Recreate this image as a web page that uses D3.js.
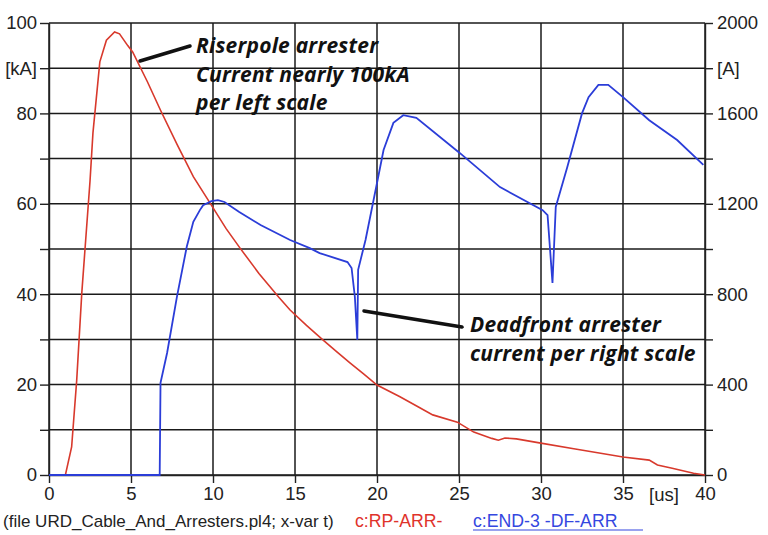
<!DOCTYPE html>
<html>
<head>
<meta charset="utf-8">
<script src="https://cdn.jsdelivr.net/npm/d3@7"></script>
<style>
  body { margin: 0; background: #fff; }
  svg { display: block; font-family: "Liberation Sans", Arial, sans-serif; }
  .axis text { font-size: 18.5px; fill: #222; }
  .axis line, .axis path { stroke: #222; stroke-width: 1.4; }
  .grid line { stroke: #1a1a1a; stroke-width: 1.5; }
  .note { font-family: "Open Sans", Lato, sans-serif; font-weight: 700; font-style: italic; font-size: 21px; letter-spacing: 0.2px; fill: #111; }
</style>
</head>
<body>
<div id="chart"></div>
<script>
/* ATP plot: arrester currents */

// red curve, riserpole arrester (left scale, kA)
const rpTime = [0, 1.0, 1.38, 1.69, 2.0, 2.5, 2.68, 3.1, 3.5, 4.0, 4.3, 4.8, 5.1, 6.0, 6.8, 7.8, 8.8, 9.9,
  10.8, 11.65, 12.8, 14.0, 14.7, 15.7, 16.7, 17.5, 18.35, 19.2, 20.0, 21.4, 22.5, 23.4, 24.9, 25.9,
  27.0, 27.4, 27.8, 28.5, 29.9, 32.0, 35.0, 36.6, 37.1, 38.0, 39.3, 40];
const rpCurrent = [0, 0, 6.2, 21, 40.3, 65, 75.7, 91.4, 96.2, 98, 97.6, 95, 93.6, 87, 80.7, 73.2, 66, 59.7,
  54.5, 50.2, 44.6, 39.4, 36.5, 33.1, 29.9, 27.4, 24.8, 22.3, 19.9, 17.3, 15.1, 13.3, 11.7, 9.5,
  8.1, 7.7, 8.2, 8.0, 7.1, 5.8, 4.0, 3.3, 2.2, 1.5, 0.4, 0];

// blue curve, deadfront arrester (right scale, A)
const dfTime = [0, 6.75, 6.8, 7.2, 7.8, 8.4, 8.8, 9.2, 9.4, 9.9, 10.3, 10.7, 11.6, 12.9, 14.7, 15.9, 16.5,
  18.2, 18.45, 18.65, 18.8, 18.85, 19.3, 20.0, 20.4, 21.0, 21.6, 22.4, 25.06, 27.5, 30.1, 30.4, 30.55,
  30.7, 30.9, 31.6, 32.5, 32.9, 33.5, 34.1, 35.0, 36.6, 38.3, 39.9];
const dfCurrent = [0, 0, 408, 540, 788, 1010, 1120, 1172, 1194, 1212, 1216, 1208, 1164, 1106, 1040, 1004, 982,
  942, 916, 788, 598, 908, 1040, 1292, 1438, 1558, 1592, 1580, 1424, 1274, 1172, 1150, 1000,
  850, 1186, 1362, 1600, 1672, 1726, 1726, 1672, 1570, 1482, 1372];

const xTicks = [0, 5, 10, 15, 20, 25, 30, 35, 40];
const leftTicks = [0, 10, 20, 30, 40, 50, 60, 70, 80, 90, 100];
const leftLabels = ["0", "", "20", "", "40", "", "60", "", "80", "[kA]", "100"];
const rightTicks = [0, 200, 400, 600, 800, 1000, 1200, 1400, 1600, 1800, 2000];
const rightLabels = ["0", "", "400", "", "800", "", "1200", "", "1600", "[A]", "2000"];

const height = 535,
  width = 768,
  margin = ({ top: 23, right: 63, bottom: 60, left: 49 });

const svg = d3.select("#chart")
  .append("svg")
  .attr("width", width)
  .attr("height", height)
  .attr("viewBox", [0, 0, width, height]);

let x = d3.scaleLinear()
  .domain([0, 40])
  .range([margin.left, width - margin.right]);

let yL = d3.scaleLinear()
  .domain([0, 100])
  .range([height - margin.bottom, margin.top]);

let yR = d3.scaleLinear()
  .domain([0, 2000])
  .range([height - margin.bottom, margin.top]);

// grid
const grid = svg.append("g").attr("class", "grid");
grid.selectAll(".h")
  .data(leftTicks)
  .join("line")
  .attr("x1", margin.left).attr("x2", width - margin.right)
  .attr("y1", d => yL(d)).attr("y2", d => yL(d));
grid.selectAll(".v")
  .data(xTicks)
  .join("line")
  .attr("class", "v")
  .attr("y1", margin.top).attr("y2", height - margin.bottom)
  .attr("x1", d => x(d)).attr("x2", d => x(d));

// axes
svg.append("g")
  .attr("class", "axis")
  .attr("transform", `translate(0,${height - margin.bottom})`)
  .call(d3.axisBottom(x).tickValues(xTicks).tickSize(8).tickPadding(4).tickSizeOuter(0));

svg.append("g")
  .attr("class", "axis")
  .attr("transform", `translate(${margin.left},0)`)
  .call(d3.axisLeft(yL).tickValues(leftTicks).tickSize(9).tickPadding(3).tickSizeOuter(0)
    .tickFormat((d, i) => leftLabels[i]));

svg.append("g")
  .attr("class", "axis")
  .attr("transform", `translate(${width - margin.right},0)`)
  .call(d3.axisRight(yR).tickValues(rightTicks).tickSize(8).tickPadding(4).tickSizeOuter(0)
    .tickFormat((d, i) => rightLabels[i]));

svg.append("text")
  .attr("x", x(37.5))
  .attr("y", height - margin.bottom + 26)
  .attr("text-anchor", "middle")
  .style("font-size", "18.5px")
  .attr("fill", "#222")
  .text("[us]");

// curves
const rpData = rpTime.map((t, i) => ({ t: t, v: rpCurrent[i] }));
const dfData = dfTime.map((t, i) => ({ t: t, v: dfCurrent[i] }));

svg.append("path")
  .datum(rpData)
  .attr("d", d3.line().x(d => x(d.t)).y(d => yL(d.v)))
  .attr("fill", "none")
  .attr("stroke", "#d8392c")
  .attr("stroke-width", 1.6);

svg.append("path")
  .datum(dfData)
  .attr("d", d3.line().x(d => x(d.t)).y(d => yR(d.v)))
  .attr("fill", "none")
  .attr("stroke", "#2b3dd8")
  .attr("stroke-width", 1.8);

// annotations
svg.append("line")
  .attr("x1", 140).attr("y1", 61).attr("x2", 190).attr("y2", 46)
  .attr("stroke", "#111").attr("stroke-width", 3.5).attr("stroke-linecap", "round");

const note1 = svg.append("text").attr("class", "note").attr("x", 196).attr("y", 53);
note1.append("tspan").attr("x", 196).attr("dy", 0).text("Riserpole arrester");
note1.append("tspan").attr("x", 196).attr("dy", 29).text("Current nearly 100kA");
note1.append("tspan").attr("x", 196).attr("dy", 28).text("per left scale");

svg.append("line")
  .attr("x1", 364).attr("y1", 311).attr("x2", 462).attr("y2", 327)
  .attr("stroke", "#111").attr("stroke-width", 3.5).attr("stroke-linecap", "round");

const note2 = svg.append("text").attr("class", "note").attr("x", 470).attr("y", 332);
note2.append("tspan").attr("x", 470).attr("dy", 0).text("Deadfront arrester");
note2.append("tspan").attr("x", 470).attr("dy", 29).text("current per right scale");

// footer
svg.append("text")
  .attr("x", 3).attr("y", 527)
  .style("font-size", "17px")
  .attr("fill", "#222")
  .text("(file URD_Cable_And_Arresters.pl4; x-var t)");

svg.append("text")
  .attr("x", 355).attr("y", 527)
  .style("font-size", "17.7px")
  .attr("fill", "#e0332b")
  .text("c:RP-ARR-");

svg.append("text")
  .attr("x", 473).attr("y", 527)
  .style("font-size", "17.7px")
  .attr("fill", "#3447e0")
  .text("c:END-3 -DF-ARR");

svg.append("line")
  .attr("x1", 473).attr("x2", 643)
  .attr("y1", 530).attr("y2", 530)
  .attr("stroke", "#3447e0").attr("stroke-width", 1.2);
</script>
</body>
</html>
